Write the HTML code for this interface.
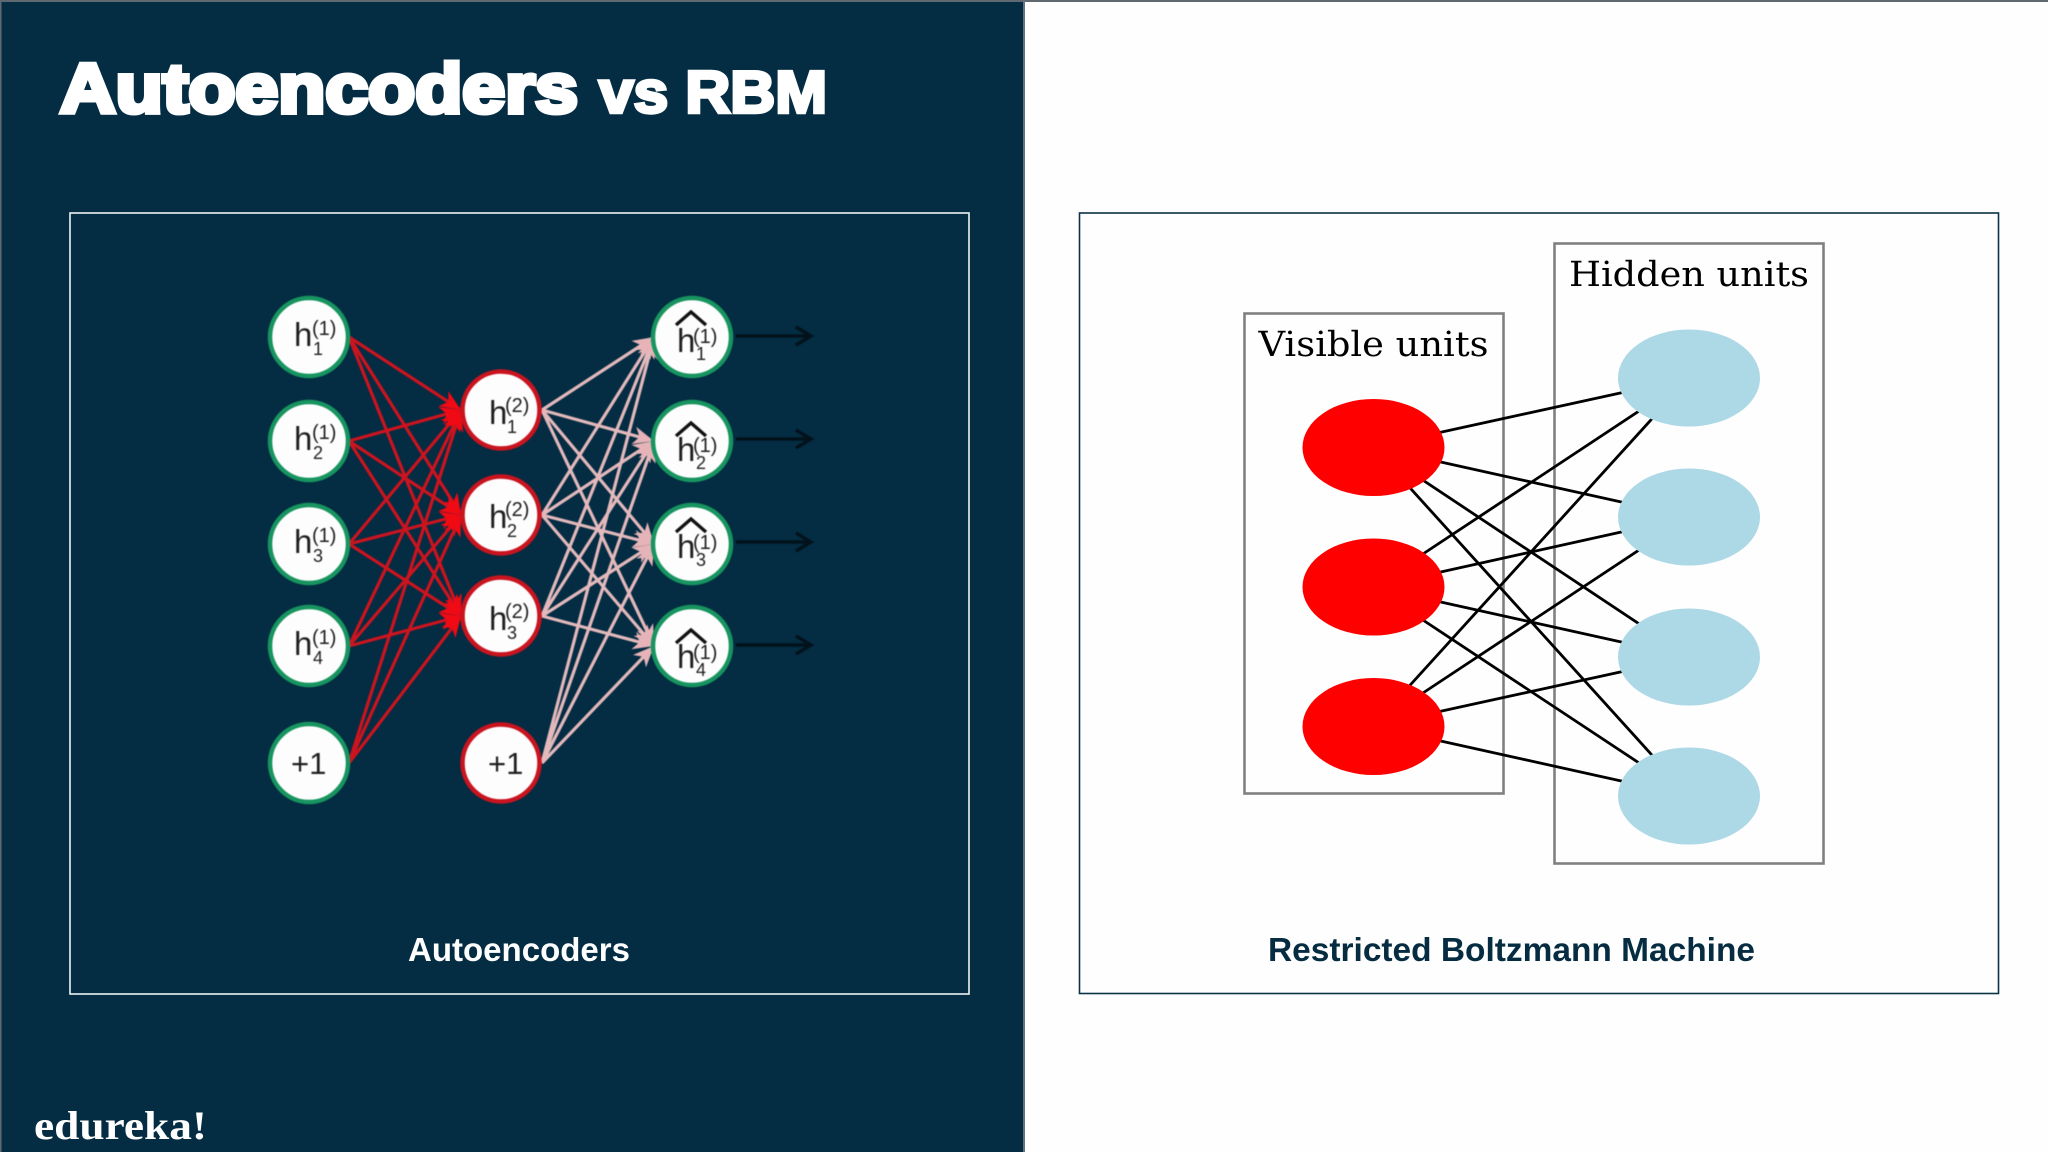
<!DOCTYPE html>
<html>
<head>
<meta charset="utf-8">
<style>
html,body{margin:0;padding:0;width:2048px;height:1152px;overflow:hidden;background:#fdfefd}
svg{display:block}
.n{font-family:"Liberation Sans",sans-serif;fill:#1f1f1f}
.h{font-size:33px}
.s{font-size:18px}
.p{font-size:20px}
.o{font-size:31px}
.r line{stroke:#cc141f;stroke-width:3.2}
.k line{stroke:#e3b9bc;stroke-width:3.2}
.b line{stroke:#000;stroke-width:2.8}
</style>
</head>
<body>
<svg xmlns="http://www.w3.org/2000/svg" width="2048" height="1152" viewBox="0 0 2048 1152">
<defs>
<marker id="ar" markerUnits="userSpaceOnUse" markerWidth="28" markerHeight="28" refX="22" refY="11" orient="auto"><path d="M1 2 L22 11 L1 20 L7 11 Z" fill="#f00a14"/></marker>
<marker id="ap" markerUnits="userSpaceOnUse" markerWidth="28" markerHeight="28" refX="22" refY="11" orient="auto"><path d="M1 2 L22 11 L1 20 L7 11 Z" fill="#e6b4b8"/></marker>
<filter id="soft" x="200" y="270" width="640" height="560" filterUnits="userSpaceOnUse" color-interpolation-filters="sRGB"><feGaussianBlur stdDeviation="0.6"/></filter>
</defs>

<rect x="0" y="0" width="2048" height="1152" fill="#fdfefd"/>
<rect x="0" y="0" width="1024" height="1152" fill="#042c42"/>
<rect x="0" y="0" width="2048" height="2" fill="#5f6a70"/>
<rect x="0" y="0" width="1.5" height="1152" fill="#5f6a70"/>
<rect x="1023" y="0" width="2" height="1152" fill="#5f7480"/>

<text x="60" y="112.5" font-family="'Liberation Sans',sans-serif" font-weight="700" font-size="70" fill="#fff" stroke="#fff" stroke-width="5" stroke-linejoin="miter" textLength="518" lengthAdjust="spacingAndGlyphs">Autoencoders</text>
<text x="599" y="112.5" font-family="'Liberation Sans',sans-serif" font-weight="700" font-size="59" fill="#fff" stroke="#fff" stroke-width="3.4" stroke-linejoin="miter" textLength="228" lengthAdjust="spacingAndGlyphs">vs RBM</text>

<rect x="70" y="213" width="899" height="781" fill="none" stroke="#eef3f4" stroke-width="1.6"/>
<rect x="1079.5" y="213" width="919" height="780.5" fill="none" stroke="#0b3246" stroke-width="1.6"/>

<g filter="url(#soft)">
<!-- Autoencoder connectors -->
<g class="r">
<line x1="349" y1="337" x2="461" y2="410" marker-end="url(#ar)"/>
<line x1="349" y1="337" x2="461" y2="515" marker-end="url(#ar)"/>
<line x1="349" y1="337" x2="461" y2="616" marker-end="url(#ar)"/>
<line x1="349" y1="441" x2="461" y2="410" marker-end="url(#ar)"/>
<line x1="349" y1="441" x2="461" y2="515" marker-end="url(#ar)"/>
<line x1="349" y1="441" x2="461" y2="616" marker-end="url(#ar)"/>
<line x1="349" y1="544" x2="461" y2="410" marker-end="url(#ar)"/>
<line x1="349" y1="544" x2="461" y2="515" marker-end="url(#ar)"/>
<line x1="349" y1="544" x2="461" y2="616" marker-end="url(#ar)"/>
<line x1="349" y1="646" x2="461" y2="410" marker-end="url(#ar)"/>
<line x1="349" y1="646" x2="461" y2="515" marker-end="url(#ar)"/>
<line x1="349" y1="646" x2="461" y2="616" marker-end="url(#ar)"/>
<line x1="349" y1="763" x2="461" y2="410" marker-end="url(#ar)"/>
<line x1="349" y1="763" x2="461" y2="515" marker-end="url(#ar)"/>
<line x1="349" y1="763" x2="461" y2="616" marker-end="url(#ar)"/>
</g>
<g class="k">
<line x1="542" y1="410" x2="654" y2="337" marker-end="url(#ap)"/>
<line x1="542" y1="410" x2="654" y2="441" marker-end="url(#ap)"/>
<line x1="542" y1="410" x2="654" y2="544" marker-end="url(#ap)"/>
<line x1="542" y1="410" x2="654" y2="646" marker-end="url(#ap)"/>
<line x1="542" y1="515" x2="654" y2="337" marker-end="url(#ap)"/>
<line x1="542" y1="515" x2="654" y2="441" marker-end="url(#ap)"/>
<line x1="542" y1="515" x2="654" y2="544" marker-end="url(#ap)"/>
<line x1="542" y1="515" x2="654" y2="646" marker-end="url(#ap)"/>
<line x1="542" y1="616" x2="654" y2="337" marker-end="url(#ap)"/>
<line x1="542" y1="616" x2="654" y2="441" marker-end="url(#ap)"/>
<line x1="542" y1="616" x2="654" y2="544" marker-end="url(#ap)"/>
<line x1="542" y1="616" x2="654" y2="646" marker-end="url(#ap)"/>
<line x1="542" y1="763" x2="654" y2="337" marker-end="url(#ap)"/>
<line x1="542" y1="763" x2="654" y2="441" marker-end="url(#ap)"/>
<line x1="542" y1="763" x2="654" y2="544" marker-end="url(#ap)"/>
<line x1="542" y1="763" x2="654" y2="646" marker-end="url(#ap)"/>
</g>

<!-- Output arrows -->
<g fill="none" stroke="#02111a" stroke-width="3.2">
<path d="M736 336H811M796 327L811 336L796 345"/>
<path d="M736 439H811M796 430L811 439L796 448"/>
<path d="M736 542H811M796 533L811 542L796 551"/>
<path d="M736 645H811M796 636L811 645L796 654"/>
</g>

<!-- Nodes -->
<g fill="#fdfdfd" stroke="#17945f" stroke-width="4.5">
<circle cx="309" cy="337" r="39"/>
<circle cx="309" cy="441" r="39"/>
<circle cx="309" cy="544" r="39"/>
<circle cx="309" cy="646" r="39"/>
<circle cx="309" cy="763" r="39"/>
<circle cx="692" cy="337" r="39"/>
<circle cx="692" cy="441" r="39"/>
<circle cx="692" cy="544" r="39"/>
<circle cx="692" cy="646" r="39"/>
</g>
<g fill="#fdfdfd" stroke="#c9141f" stroke-width="4.5">
<circle cx="501" cy="410" r="38.5"/>
<circle cx="501" cy="515" r="38.5"/>
<circle cx="501" cy="616" r="38.5"/>
<circle cx="501" cy="763" r="38.5"/>
</g>

<!-- Node labels -->
<g class="n">
<text class="h" x="294" y="346">h</text><text class="s" x="313" y="355">1</text><text class="p" x="312" y="335">(1)</text>
<text class="h" x="294" y="450">h</text><text class="s" x="313" y="459">2</text><text class="p" x="312" y="439">(1)</text>
<text class="h" x="294" y="553">h</text><text class="s" x="313" y="562">3</text><text class="p" x="312" y="542">(1)</text>
<text class="h" x="294" y="655">h</text><text class="s" x="313" y="664">4</text><text class="p" x="312" y="644">(1)</text>
<text class="o" x="291" y="774">+1</text>

<text class="h" x="489" y="424">h</text><text class="s" x="507" y="433">1</text><text class="p" x="505" y="412">(2)</text>
<text class="h" x="489" y="528">h</text><text class="s" x="507" y="537">2</text><text class="p" x="505" y="516">(2)</text>
<text class="h" x="489" y="630">h</text><text class="s" x="507" y="639">3</text><text class="p" x="505" y="618">(2)</text>
<text class="o" x="488" y="774">+1</text>

<text class="h" x="677" y="352">h</text><text class="s" x="696" y="360">1</text><text class="p" x="693" y="343">(1)</text>
<text class="h" x="677" y="461">h</text><text class="s" x="696" y="469">2</text><text class="p" x="693" y="452">(1)</text>
<text class="h" x="677" y="558">h</text><text class="s" x="696" y="566">3</text><text class="p" x="693" y="549">(1)</text>
<text class="h" x="677" y="668">h</text><text class="s" x="696" y="676">4</text><text class="p" x="693" y="659">(1)</text>
</g>
<g fill="none" stroke="#111" stroke-width="3.4">
<path d="M676 325L691 312L706 325"/>
<path d="M676 436L691 423L706 436"/>
<path d="M676 532L691 519L706 532"/>
<path d="M676 643L691 630L706 643"/>
</g>
</g>

<text x="408" y="961" font-family="'Liberation Sans',sans-serif" font-weight="700" font-size="33" fill="#fff" textLength="222" lengthAdjust="spacingAndGlyphs">Autoencoders</text>
<text x="1268" y="961" font-family="'Liberation Sans',sans-serif" font-weight="700" font-size="33" fill="#062c42" textLength="487" lengthAdjust="spacingAndGlyphs">Restricted Boltzmann Machine</text>
<text x="34" y="1139" font-family="'Liberation Serif',serif" font-weight="700" font-size="40" fill="#fff" textLength="173" lengthAdjust="spacingAndGlyphs">edureka!</text>

<!-- RBM -->
<rect x="1244.5" y="313.5" width="259" height="480" fill="none" stroke="#808080" stroke-width="2.6"/>
<rect x="1554.5" y="243.5" width="269" height="620" fill="none" stroke="#808080" stroke-width="2.6"/>
<g class="b">
<line x1="1373" y1="447" x2="1689" y2="378"/>
<line x1="1373" y1="447" x2="1689" y2="517"/>
<line x1="1373" y1="447" x2="1689" y2="657"/>
<line x1="1373" y1="447" x2="1689" y2="796"/>
<line x1="1373" y1="587" x2="1689" y2="378"/>
<line x1="1373" y1="587" x2="1689" y2="517"/>
<line x1="1373" y1="587" x2="1689" y2="657"/>
<line x1="1373" y1="587" x2="1689" y2="796"/>
<line x1="1373" y1="726" x2="1689" y2="378"/>
<line x1="1373" y1="726" x2="1689" y2="517"/>
<line x1="1373" y1="726" x2="1689" y2="657"/>
<line x1="1373" y1="726" x2="1689" y2="796"/>
</g>
<g fill="#ff0000">
<ellipse cx="1373.5" cy="447.5" rx="71" ry="48.5"/>
<ellipse cx="1373.5" cy="587" rx="71" ry="48.5"/>
<ellipse cx="1373.5" cy="726.5" rx="71" ry="48.5"/>
</g>
<g fill="#add8e6">
<ellipse cx="1689" cy="378" rx="71" ry="48.5"/>
<ellipse cx="1689" cy="517" rx="71" ry="48.5"/>
<ellipse cx="1689" cy="657" rx="71" ry="48.5"/>
<ellipse cx="1689" cy="796" rx="71" ry="48.5"/>
</g>
<text x="1258.5" y="356" font-family="'DejaVu Serif',serif" font-size="35" fill="#000" textLength="230" lengthAdjust="spacingAndGlyphs">Visible units</text>
<text x="1569" y="286" font-family="'DejaVu Serif',serif" font-size="35" fill="#000" textLength="240" lengthAdjust="spacingAndGlyphs">Hidden units</text>
</svg>
</body>
</html>
